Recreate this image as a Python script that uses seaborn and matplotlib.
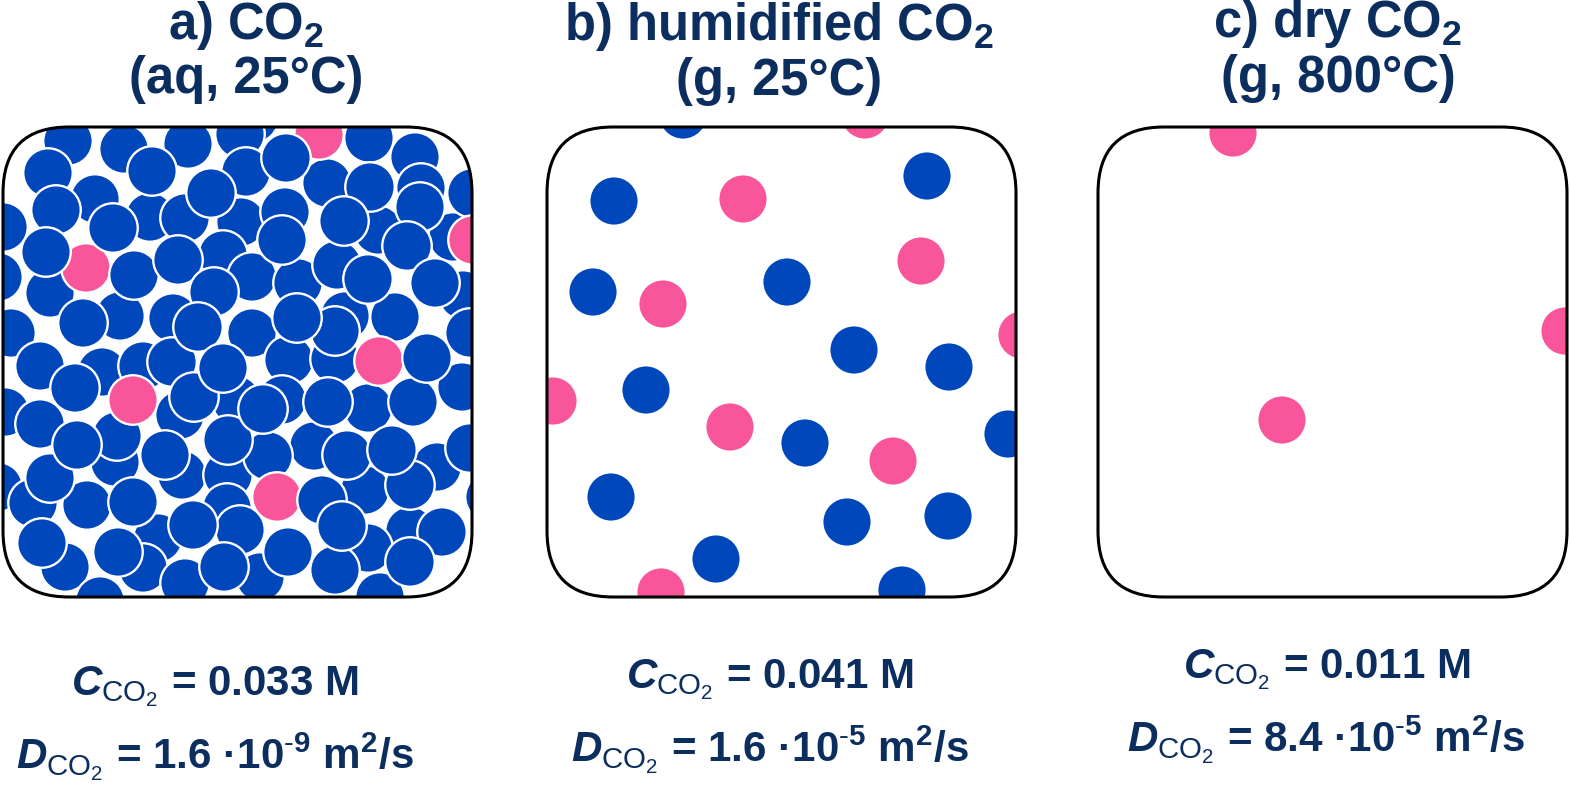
import numpy as np
import pandas as pd
import seaborn as sns
import matplotlib
matplotlib.use("Agg")
import matplotlib.pyplot as plt
from matplotlib.patches import FancyBboxPatch

# Panel a: circle centres, back to front
a_back = [(254,118),(240,134),(68,141),(124,149),(188,144),(246,172),(95,199),(150,217),(185,218),(3,227),
          (241,222),(223,255),(50,293),(-2,277),(120,316),(173,318),(11,333),(369,138),(415,157),(421,188),
          (327,183),(285,212),(252,277),(298,283),(337,265),(345,316),(395,317),(378,230),(453,237),(472,193),
          (463,295),(252,333),(40,366),(102,372),(143,366),(172,362),(5,412),(115,462),(117,436),(180,415),
          (236,400),(182,475),(-2,487),(33,503),(87,505),(65,567),(158,538),(143,568),(100,601),(185,583),(228,475),
          (227,508),(289,360),(335,359),(282,400),(368,408),(413,402),(462,387),(314,446),(268,456),(437,467),
          (470,448),(490,497),(365,490),(410,531),(442,532),(368,548),(335,570),(380,597),(260,577),(240,530)]
a_pink = [(319,135),(473,240),(379,361),(86,268),(277,497),(133,400)]
a_front = [(152,171),(48,173),(211,193),(56,210),(113,228),(46,252),(134,275),(178,260),(214,292),(198,327),
           (83,323),(286,158),(370,187),(344,221),(282,240),(420,207),(407,246),(368,279),(435,283),(335,331),
           (297,318),(470,333),(427,358),(75,388),(40,424),(50,478),(77,445),(133,502),(42,543),(118,552),
           (165,455),(194,397),(223,368),(228,440),(193,525),(224,567),(263,409),(328,402),(322,500),(410,485),
           (347,455),(392,450),(342,526),(288,552),(410,562)]

# Panel b and c
b_blue = [(683,115),(927,176),(614,201),(593,292),(787,282),(854,350),(949,367),(646,390),(1008,434),
          (805,443),(611,497),(948,516),(847,522),(716,559),(902,590)]
b_pink = [(865,115),(743,199),(921,261),(663,304),(1022,335),(553,401),(730,427),(893,461),(661,592)]
c_pink = [(1233,133),(1565,331),(1282,420)]

title_top = ["a) CO$\\mathbf{_2}$", "b) humidified CO$\\mathbf{_2}$", "c) dry CO$\\mathbf{_2}$"]
title_bot = ["(aq, 25°C)", "(g, 25°C)", "(g, 800°C)"]
title_x = [246, 779, 1338]
title_y1 = [39, 40, 37]
title_y2 = [93, 95, 92]
conc = ["0.033", "0.041", "0.011"]
diff = ["1.6 ·10$\\mathbf{^{\\text{-}9}}$", "1.6 ·10$\\mathbf{^{\\text{-}5}}$", "8.4 ·10$\\mathbf{^{\\text{-}5}}$"]
conc_x = [71, 626, 1183]
diff_x = [16, 571, 1127]
conc_y = [695, 688, 678]
diff_y = [769, 762, 752]
boxes = [(3, 127), (547, 127), (1098, 127)]

BLUE = "#0047bb"
PINK = "#f9559b"
NAVY = "#0b2e5f"

sns.set_theme(style="white")
plt.rcParams["font.family"] = ["Liberation Sans", "DejaVu Sans"]
plt.rcParams["mathtext.fontset"] = "custom"
plt.rcParams["mathtext.rm"] = "Liberation Sans"
plt.rcParams["mathtext.bf"] = "Liberation Sans:bold"
plt.rcParams["mathtext.it"] = "Liberation Sans:italic:bold"

fig = plt.figure(figsize=(15.7, 7.87), dpi=100)
ax = fig.add_axes([0, 0, 1, 1])
ax.set_xlim(0, 1570)
ax.set_ylim(787, 0)
ax.axis("off")

def make_df(groups):
    rows = []
    for pts, kind in groups:
        for x, y in pts:
            rows.append({"x": x, "y": y, "kind": kind})
    return pd.DataFrame(rows)

panels = [
    make_df([(a_back, "blue"), (a_pink, "pink"), (a_front, "blue")]),
    make_df([(b_blue, "blue"), (b_pink, "pink")]),
    make_df([(c_pink, "pink")]),
]

RAD = 66
for i, df in enumerate(panels):
    x0, y0 = boxes[i]
    box = FancyBboxPatch((x0 + RAD, y0 + RAD), 469 - 2 * RAD, 470 - 2 * RAD,
                         boxstyle=f"round,pad={RAD},rounding_size={RAD}",
                         fc="none", ec="none", transform=ax.transData)
    ax.add_patch(box)
    before = len(ax.collections)
    sns.scatterplot(data=df, x="x", y="y", hue="kind", palette={"blue": BLUE, "pink": PINK},
                    s=(49.5 * 0.72) ** 2, edgecolor="white", linewidth=1.7, legend=False, ax=ax)
    ax.collections[before].set_clip_path(box)
    outline = FancyBboxPatch((x0 + RAD, y0 + RAD), 469 - 2 * RAD, 470 - 2 * RAD,
                             boxstyle=f"round,pad={RAD},rounding_size={RAD}",
                             fc="none", ec="black", lw=2.2, zorder=5)
    ax.add_patch(outline)

    ax.text(title_x[i], title_y1[i], title_top[i], ha="center", va="baseline", fontsize=36.5,
            fontweight="bold", color=NAVY)
    ax.text(title_x[i], title_y2[i], title_bot[i], ha="center", va="baseline", fontsize=36.5,
            fontweight="bold", color=NAVY)
    ax.text(conc_x[i], conc_y[i], f"$\\mathit{{C}}_{{\\mathrm{{CO}}_{{2}}}}$ = {conc[i]} M", ha="left", va="baseline",
            fontsize=30.3, fontweight="bold", color=NAVY)
    ax.text(diff_x[i], diff_y[i], f"$\\mathit{{D}}_{{\\mathrm{{CO}}_{{2}}}}$ = {diff[i]} m$\\mathbf{{^2}}$/s", ha="left",
            va="baseline", fontsize=30.3, fontweight="bold", color=NAVY)

ax.set_xlabel("")
ax.set_ylabel("")
fig.savefig("out.png", dpi=100)
plt.close(fig)
